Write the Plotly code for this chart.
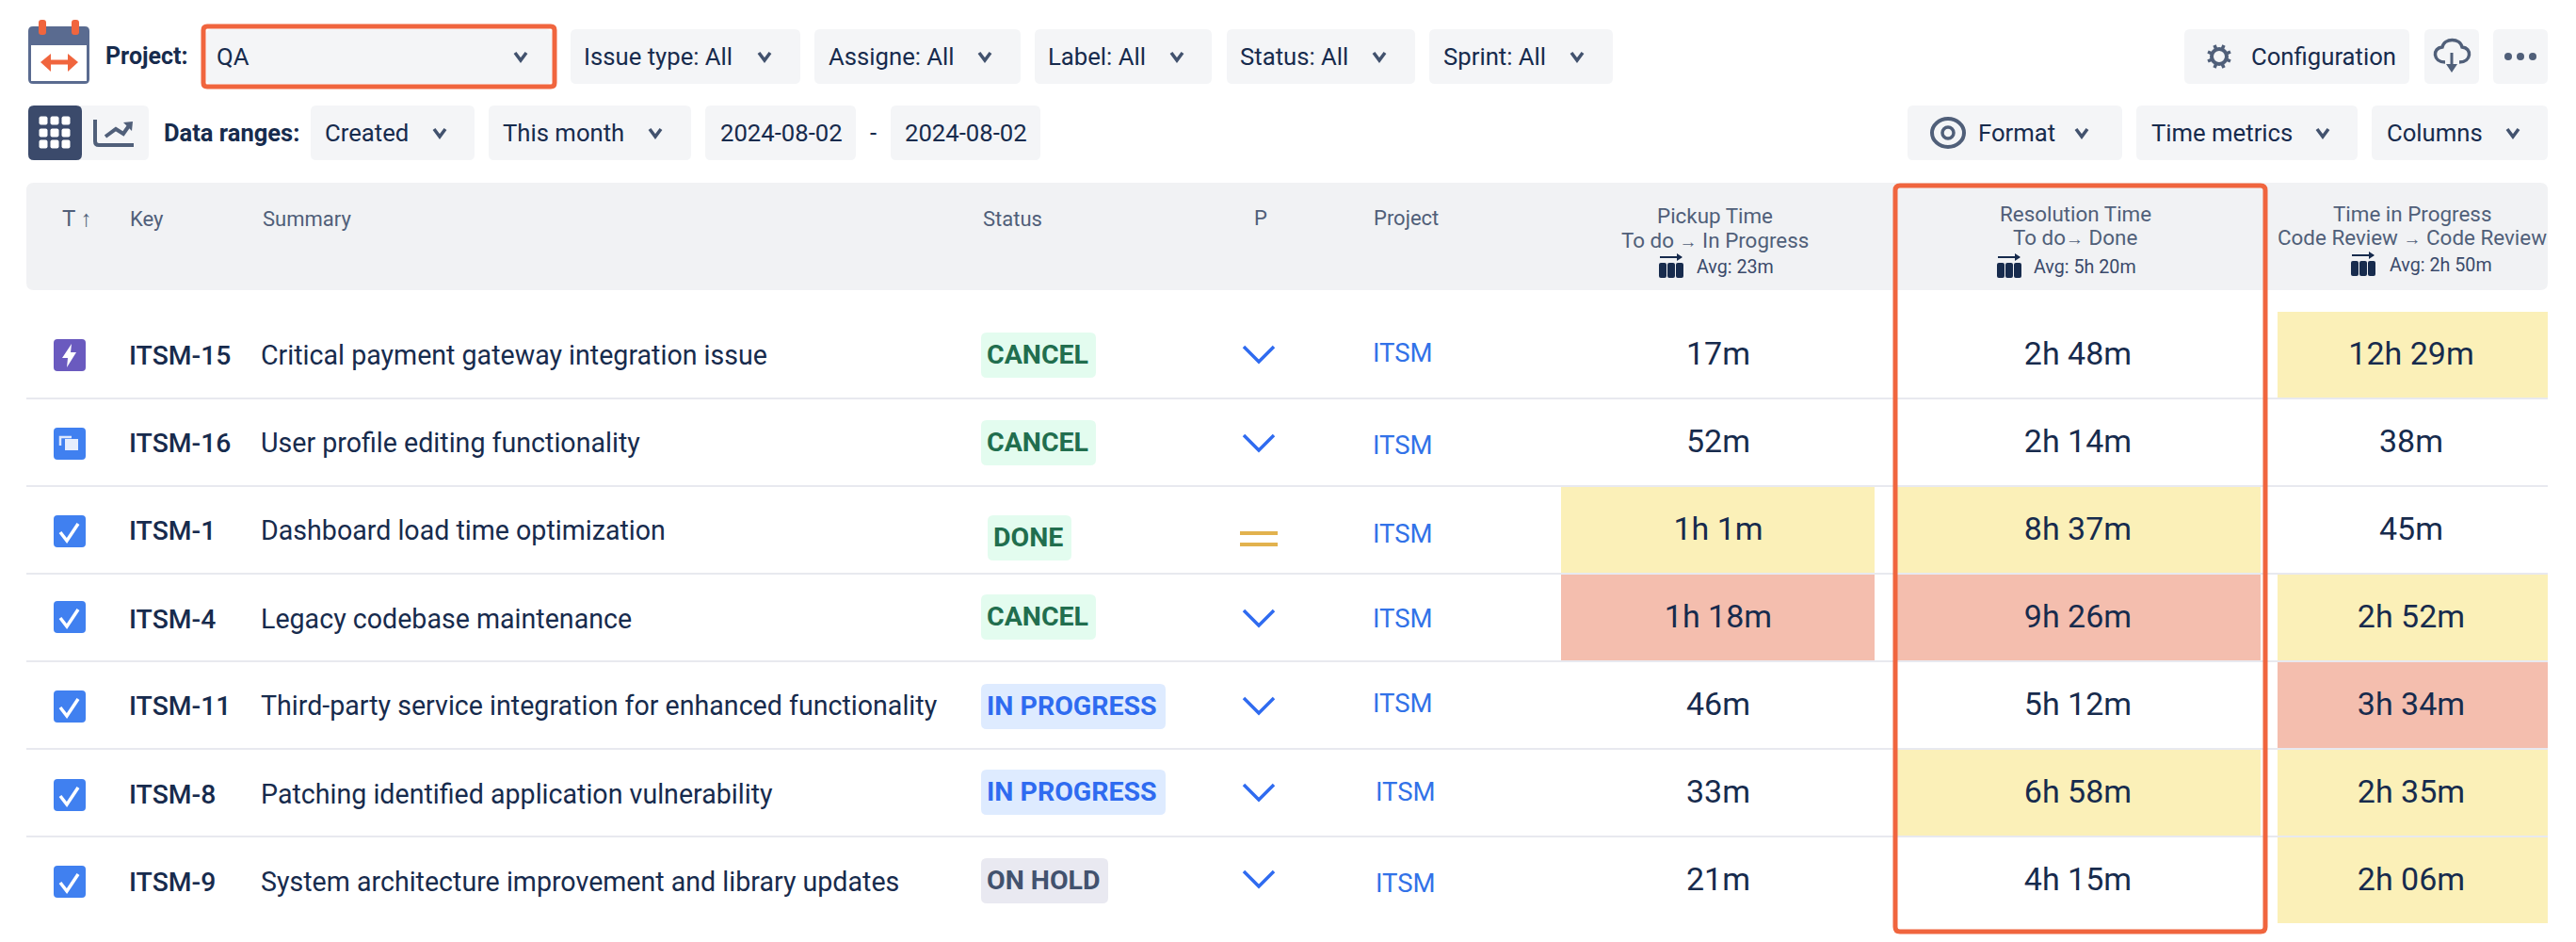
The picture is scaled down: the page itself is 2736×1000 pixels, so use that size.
import math
import plotly.graph_objects as go

# table data
keys = ['ITSM-15', 'ITSM-16', 'ITSM-1', 'ITSM-4', 'ITSM-11', 'ITSM-8', 'ITSM-9']
summaries = [
    'Critical payment gateway integration issue',
    'User profile editing functionality',
    'Dashboard load time optimization',
    'Legacy codebase maintenance',
    'Third-party service integration for enhanced functionality',
    'Patching identified application vulnerability',
    'System architecture improvement and library updates',
]
issue_types = ['epic', 'story', 'task', 'task', 'task', 'task', 'task']
statuses = ['CANCEL', 'CANCEL', 'DONE', 'CANCEL', 'IN PROGRESS', 'IN PROGRESS', 'ON HOLD']
priorities = ['low', 'low', 'medium', 'low', 'low', 'low', 'low']
projects = ['ITSM'] * 7
pickup_time = ['17m', '52m', '1h 1m', '1h 18m', '46m', '33m', '21m']
resolution_time = ['2h 48m', '2h 14m', '8h 37m', '9h 26m', '5h 12m', '6h 58m', '4h 15m']
progress_time = ['12h 29m', '38m', '45m', '2h 52m', '3h 34m', '2h 35m', '2h 06m']
# 0 none, 1 yellow, 2 red
pickup_level = [0, 0, 1, 2, 0, 0, 0]
resolution_level = [0, 0, 1, 2, 0, 1, 0]
progress_level = [1, 0, 0, 1, 2, 1, 1]

# layout of the table, in page pixels
row_top = [331, 423, 516, 609, 702, 795, 888]
row_bottom = [423, 516, 609, 702, 795, 888, 980]
text_y = [380, 473, 566, 660, 752, 846, 939]
time_y = [378, 471, 564, 657, 750, 843, 936]
status_y = [377, 470, 571, 655, 750, 841, 935]
link_y = [377, 475, 569, 659, 749, 843, 940]
link_x = [1458, 1458, 1458, 1458, 1458, 1461, 1461]
chevron_y = [376, 470, 572, 656, 749, 841, 933]
icon_top = [360, 454, 547, 638, 733, 827, 919]
pill_left = {'CANCEL': 1042, 'DONE': 1049, 'IN PROGRESS': 1042, 'ON HOLD': 1042}
pill_right = {'CANCEL': 1164, 'DONE': 1138, 'IN PROGRESS': 1238, 'ON HOLD': 1177}
pill_fill = {'CANCEL': '#E3FCEF', 'DONE': '#E3FCEF', 'IN PROGRESS': '#DEEBFF', 'ON HOLD': '#E9E9F1'}
pill_text = {'CANCEL': '#216E4E', 'DONE': '#216E4E', 'IN PROGRESS': '#2F6BF0', 'ON HOLD': '#42526E'}
level_color = {1: '#FBF0B8', 2: '#F4BEAE'}

NAVY = '#172B4D'
SLATE = '#505F79'
ORANGE = '#F0653E'
BTN = '#F4F5F7'
HEAD = '#F1F2F4'
FONT = 'Roboto'
SMALL_ARROW = '<span style="font-size:19px">→</span>'

shapes = []
notes = []


def rrect(x0, y0, x1, y1, r=6):
    return (f'M {x0+r} {y0} L {x1-r} {y0} Q {x1} {y0} {x1} {y0+r} L {x1} {y1-r} Q {x1} {y1} {x1-r} {y1} '
            f'L {x0+r} {y1} Q {x0} {y1} {x0} {y1-r} L {x0} {y0+r} Q {x0} {y0} {x0+r} {y0} Z')


def box(x0, y0, x1, y1, fill, r=6):
    shapes.append(dict(type='path', path=rrect(x0, y0, x1, y1, r), fillcolor=fill, line_width=0, layer='below'))


def rect(x0, y0, x1, y1, fill):
    shapes.append(dict(type='rect', x0=x0, y0=y0, x1=x1, y1=y1, fillcolor=fill, line_width=0, layer='below'))


def stroke(path, color, width=3):
    shapes.append(dict(type='path', path=path, line=dict(color=color, width=width), layer='below'))


def solid(path, color):
    shapes.append(dict(type='path', path=path, fillcolor=color, line_width=0, layer='below'))


def chevron(x, y, w=6, h=4, color='#42526E', width=3.5):
    stroke(f'M {x-w} {y-h} L {x} {y+h} L {x+w} {y-h}', color, width)


def label(x, y, text, size=25.7, color=NAVY, anchor='left', weight=400):
    notes.append(dict(x=x, y=y, text=text, showarrow=False, xanchor=anchor, yanchor='middle', align='center',
                      font=dict(family=FONT, size=size, color=color, weight=weight)))


def ring(x, y, rx, ry, color, width):
    shapes.append(dict(type='circle', x0=x-rx, x1=x+rx, y0=y-ry, y1=y+ry, line=dict(color=color, width=width),
                       layer='below'))


def dropdown(x0, x1, y, text, text_x, chev_x):
    box(x0, y-29, x1, y+29, BTN)
    label(text_x, y, text)
    if chev_x:
        chevron(chev_x, y)


def queue_icon(x, y):
    # arrow above three bars, in the header cells
    stroke(f'M {x+1} {y+3} L {x+24} {y+3}', NAVY, 2)
    solid(f'M {x+19} {y-1} L {x+25} {y+3} L {x+19} {y+7} Z', NAVY)
    for i in range(3):
        box(x + i * 9, y + 9, x + i * 9 + 8, y + 25, NAVY, 2)


# app icon
box(30, 28, 95, 89, '#5A6B90', 5)
rect(33, 48, 92, 86, 'white')
box(41, 21, 49, 37, ORANGE, 3)
box(76, 21, 84, 37, ORANGE, 3)
stroke('M 50 66 L 76 66', ORANGE, 5)
solid('M 43 66 L 54 57 L 54 76 Z', ORANGE)
solid('M 83 66 L 72 57 L 72 76 Z', ORANGE)
label(110, 59, 'Project:', weight=700, size=25)

# first row of filters
dropdown(219, 586, 60, 'QA', 228, 553)
dropdown(606, 850, 60, 'Issue type: All', 618, 812)
dropdown(865, 1084, 60, 'Assigne: All', 878, 1046)
dropdown(1099, 1287, 60, 'Label: All', 1111, 1250)
dropdown(1303, 1503, 60, 'Status: All', 1315, 1465)
dropdown(1518, 1713, 60, 'Sprint: All', 1531, 1675)
stroke(rrect(216, 28, 589, 92, 4), ORANGE, 5)

dropdown(2320, 2559, 60, 'Configuration', 2389, None)
ring(2357, 60, 8, 8, SLATE, 4)
for i in range(8):
    a = math.pi * i / 4 + math.pi / 8
    stroke(f'M {2357 + 9 * math.cos(a):.1f} {60 + 9 * math.sin(a):.1f} '
           f'L {2357 + 13 * math.cos(a):.1f} {60 + 13 * math.sin(a):.1f}', SLATE, 3.5)
box(2575, 31, 2633, 89, BTN)
stroke('M 2597 66 C 2584 66 2583 51 2594 50 C 2596 40 2613 40 2615 50 C 2626 51 2625 66 2612 66', SLATE, 3.5)
stroke('M 2604 56 L 2604 70', SLATE, 3)
solid('M 2598 68 L 2610 68 L 2604 77 Z', SLATE)
box(2648, 31, 2706, 89, BTN)
for dot_x in [2664, 2677, 2690]:
    shapes.append(dict(type='circle', x0=dot_x-4, x1=dot_x+4, y0=56, y1=64, fillcolor=SLATE, line_width=0,
                       layer='below'))

# second row of filters
box(30, 112, 158, 170, BTN)
box(30, 112, 87, 170, '#3B4A6B')
for dot_y in [128, 141, 153]:
    for dot_x in [46, 58, 70]:
        box(dot_x-4.5, dot_y-4.5, dot_x+4.5, dot_y+4.5, 'white', 2)
stroke('M 101 127 L 101 150 Q 101 154 105 154 L 142 154', SLATE, 4)
stroke('M 112 145 L 123 137 L 131 142 L 138 132', SLATE, 4)
solid('M 131 130 L 141 129 L 140 139 Z', SLATE)
label(172, 141, 'Data ranges:', weight=700, size=25.5)
dropdown(330, 504, 141, 'Created', 343, 467)
dropdown(519, 734, 141, 'This month', 532, 696)
dropdown(749, 909, 141, '2024-08-02', 763, None)
label(927, 141, '-', anchor='center')
dropdown(946, 1105, 141, '2024-08-02', 959, None)

dropdown(2026, 2254, 141, 'Format', 2099, 2211)
ring(2069, 141, 17, 15, SLATE, 4)
ring(2069, 141, 6, 6, SLATE, 3.5)
dropdown(2269, 2504, 141, 'Time metrics', 2283, 2467)
dropdown(2519, 2706, 141, 'Columns', 2533, 2669)

# table header
box(28, 194, 2706, 308, HEAD, 8)
label(64, 232, 'T ↑', size=24, color=SLATE)
for hx, hy, htext in [(136, 232, 'Key'), (277, 232, 'Summary'), (1042, 232, 'Status'),
                      (1330, 231, 'P'), (1457, 231, 'Project')]:
    label(hx, hy, htext, size=22, color=SLATE)
label(1821, 229, 'Pickup Time', size=22.4, color=SLATE, anchor='center')
label(1821, 255, f'To do {SMALL_ARROW} In Progress', size=22.4, color=SLATE, anchor='center')
label(1800, 283, 'Avg: 23m', size=19.7, color='#3B4A6B')
queue_icon(1762, 270)
label(2204, 227, 'Resolution Time', size=22.4, color=SLATE, anchor='center')
label(2204, 252, f'To do{SMALL_ARROW} Done', size=22.4, color=SLATE, anchor='center')
label(2158, 283, 'Avg: 5h 20m', size=19.7, color='#3B4A6B')
queue_icon(2121, 270)
label(2562, 227, 'Time in Progress', size=22.4, color=SLATE, anchor='center')
label(2562, 252, f'Code Review {SMALL_ARROW} Code Review', size=22.4, color=SLATE, anchor='center')
label(2536, 281, 'Avg: 2h 50m', size=19.7, color='#3B4A6B')
queue_icon(2497, 268)

# coloured time cells, then row rules on top of them
for levels, x0, x1 in [(pickup_level, 1658, 1991), (resolution_level, 2015, 2401), (progress_level, 2419, 2706)]:
    for i, level in enumerate(levels):
        if level:
            rect(x0, row_top[i], x1, row_bottom[i], level_color[level])
for y in row_bottom[:-1]:
    rect(28, y-1, 2706, y+1, '#E8E9EF')

# issue type icons
for i, kind in enumerate(issue_types):
    top = icon_top[i]
    box(57, top, 91, top+34, '#6A5ABF' if kind == 'epic' else '#4080F0', 4)
    if kind == 'epic':
        solid(f'M 76 {top+5} L 66 {top+20} L 72 {top+20} L 71 {top+30} L 81 {top+14} L 75 {top+14} Z', 'white')
    elif kind == 'story':
        stroke(f'M 64 {top+19} L 64 {top+10} L 76 {top+10}', '#DCE7FD', 2.5)
        rect(69, top+12, 83, top+24, '#E6EEFD')
    else:
        stroke(f'M 64 {top+18} L 71 {top+27} L 83 {top+9}', 'white', 3.5)

# status pills and priority marks
for i, status in enumerate(statuses):
    box(pill_left[status], status_y[i]-24, pill_right[status], status_y[i]+24, pill_fill[status], 6)
    if priorities[i] == 'medium':
        rect(1317, chevron_y[i]-8, 1357, chevron_y[i]-4, '#E2B24E')
        rect(1317, chevron_y[i]+4, 1357, chevron_y[i]+8, '#E2B24E')
    else:
        chevron(1337, chevron_y[i], 16, 8, '#2F6BF0', 3.5)

# outline around the resolution column
stroke(rrect(2013, 197, 2406, 989, 5), ORANGE, 5)


def column(x, y, text, size, color, position, weight=400):
    return go.Scatter(x=x, y=y, text=text, mode='text', textposition=position, hoverinfo='skip',
                      textfont=dict(family=FONT, size=size, color=color, weight=weight))


n = len(keys)
fig = go.Figure()
fig.add_trace(column([137] * n, text_y, keys, 28.3, NAVY, 'middle right', 500))
fig.add_trace(column([277] * n, text_y, summaries, 28.6, NAVY, 'middle right'))
for i, status in enumerate(statuses):
    fig.add_trace(column([pill_left[status] + 6], [status_y[i] + 2], [status], 28.5, pill_text[status],
                         'middle right', 700))
fig.add_trace(column(link_x, link_y, projects, 27.5, '#3272E8', 'middle right'))
fig.add_trace(column([1825] * n, time_y, pickup_time, 34, NAVY, 'middle center'))
fig.add_trace(column([2207] * n, time_y, resolution_time, 34, NAVY, 'middle center'))
fig.add_trace(column([2561] * n, time_y, progress_time, 34, NAVY, 'middle center'))

fig.update_layout(
    width=2736,
    height=1000,
    margin=dict(l=0, r=0, t=0, b=0),
    paper_bgcolor='white',
    plot_bgcolor='white',
    showlegend=False,
    shapes=shapes,
    annotations=notes,
    xaxis=dict(range=[0, 2736], visible=False, fixedrange=True),
    yaxis=dict(range=[1000, 0], visible=False, fixedrange=True),
)

fig.write_html('out.html', config={'displayModeBar': False},
               post_script="document.body.style.margin='0';document.body.style.overflow='hidden';")
